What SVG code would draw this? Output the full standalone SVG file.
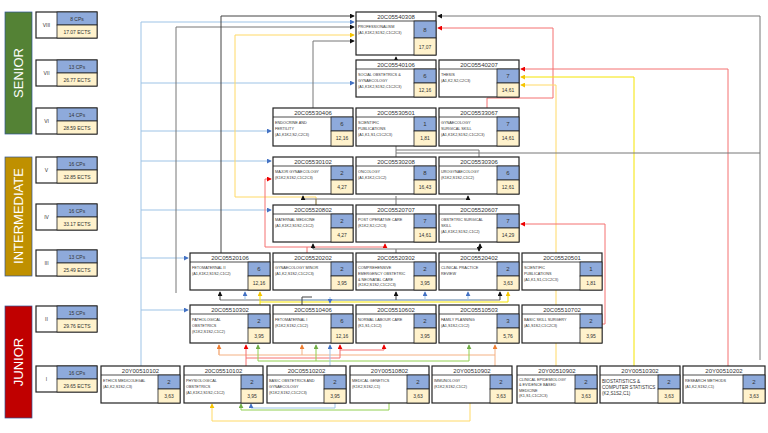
<svg xmlns="http://www.w3.org/2000/svg" width="768" height="433" viewBox="0 0 768 433">
<defs>
<style>
.b{fill:#fff;stroke:#222;stroke-width:1.2}
.hl{stroke:#222;stroke-width:0.8}
.cp{fill:#8eaadb;stroke:#222;stroke-width:0.8}
.ec{fill:#fff2cc;stroke:#222;stroke-width:0.8}
text{font-family:"Liberation Sans",Arial,sans-serif;fill:#333}
.code{font-size:6px;text-anchor:middle}
.nm{font-size:3.8px}
.num{font-size:6px;text-anchor:middle}
.ects{font-size:5px;text-anchor:middle}
.band{font-size:13px;fill:#fff;text-anchor:middle}
.sl{font-size:5px;text-anchor:middle}
.c{fill:none;stroke-width:1}
.gy{stroke:#777}.bk{stroke:#444}.bl{stroke:#9dc3e6}.rd{stroke:#f47070}.ye{stroke:#ffd966}.yy{stroke:#f5e400}.or{stroke:#f4b183}.gr{stroke:#92d050}
</style>
<marker id="aK" viewBox="0 0 6 6" refX="5" refY="3" markerWidth="5" markerHeight="5" orient="auto"><path d="M0,0L6,3L0,6z" fill="#111"/></marker>
<marker id="aB" viewBox="0 0 6 6" refX="5" refY="3" markerWidth="5" markerHeight="5" orient="auto"><path d="M0,0L6,3L0,6z" fill="#4472c4"/></marker>
<marker id="aR" viewBox="0 0 6 6" refX="5" refY="3" markerWidth="5" markerHeight="5" orient="auto"><path d="M0,0L6,3L0,6z" fill="#e00"/></marker>
<marker id="aY" viewBox="0 0 6 6" refX="5" refY="3" markerWidth="5" markerHeight="5" orient="auto"><path d="M0,0L6,3L0,6z" fill="#f5c400"/></marker>
<marker id="aO" viewBox="0 0 6 6" refX="5" refY="3" markerWidth="5" markerHeight="5" orient="auto"><path d="M0,0L6,3L0,6z" fill="#ed7d31"/></marker>
<marker id="aG" viewBox="0 0 6 6" refX="5" refY="3" markerWidth="5" markerHeight="5" orient="auto"><path d="M0,0L6,3L0,6z" fill="#70ad47"/></marker>
</defs>
<rect width="768" height="433" fill="#fff"/>

<g id="connectors">
<!-- blue trunk -->
<path class="c bl" d="M141,366V22H354" marker-end="url(#aB)"/>
<path class="c bl" d="M141,83H354" marker-end="url(#aB)"/>
<path class="c bl" d="M141,131H271" marker-end="url(#aB)"/>
<path class="c bl" d="M141,161H271" marker-end="url(#aB)"/>
<path class="c bl" d="M141,210H271" marker-end="url(#aB)"/>
<path class="c bl" d="M141,258H188" marker-end="url(#aB)"/>
<path class="c bl" d="M141,310H188" marker-end="url(#aB)"/>
<!-- gray to professionalism -->
<path class="c gy" d="M176,293V27H354" marker-end="url(#aK)"/>
<path class="c bk" d="M221,253V16H354" marker-end="url(#aK)"/>
<path class="c ye" d="M235,35H354" marker-end="url(#aY)"/>
<path class="c ye" d="M235,35V197H316V205"/>
<path class="c gy" d="M313,108V41H354" marker-end="url(#aK)"/>
<path class="c bk" d="M396,60V57" marker-end="url(#aK)"/>
<path class="c gy" d="M760,360V16H438" marker-end="url(#aK)"/>
<path class="c rd" d="M487,108V98H553V28H438" marker-end="url(#aR)"/>
<path class="c rd" d="M728,366V69H521" marker-end="url(#aR)"/>
<path class="c yy" d="M634,366V77H521" marker-end="url(#aY)"/>
<path class="c ye" d="M556,366V85H521" marker-end="url(#aY)"/>
<!-- row VI to V -->
<path class="c gy" d="M396,157V146"/>
<path class="c gy" d="M479,157V150H396"/>
<path class="c gy" d="M396,153H760"/>
<!-- row V - IV -->
<path class="c gy" d="M303,199H468"/>
<path class="c bk" d="M303,199V196" marker-end="url(#aK)"/>
<path class="c bk" d="M468,199V196" marker-end="url(#aK)"/>
<path class="c gy" d="M396,205V196"/>
<path class="c gy" d="M316,199V205"/>
<!-- red into major gyn and post op -->
<path class="c rd" d="M307,253V247H265V179H271" marker-end="url(#aR)"/>
<path class="c rd" d="M307,247H385V244" marker-end="url(#aR)"/>
<path class="c rd" d="M605,324V224H521" marker-end="url(#aR)"/>
<path class="c rd" d="M602,324H605"/>
<!-- row III to IV -->
<path class="c gy" d="M313,249H480"/>
<path class="c bk" d="M313,249V244" marker-end="url(#aK)"/>
<path class="c bk" d="M480,249V244" marker-end="url(#aK)"/>
<path class="c bk" d="M480,249H479V251" marker-end="url(#aK)"/>
<path class="c gy" d="M396,253V249"/>
<!-- row II to III -->
<path class="c gy" d="M220,300H500"/>
<path class="c bk" d="M220,300V292" marker-end="url(#aK)"/>
<path class="c bl" d="M245,300V292" marker-end="url(#aB)"/>
<path class="c yy" d="M260,305V300V292" marker-end="url(#aY)"/>
<path class="c bl" d="M300,300H480"/>
<path class="c bk" d="M396,300V292" marker-end="url(#aK)"/>
<path class="c bl" d="M425,300V292" marker-end="url(#aB)"/>
<path class="c bl" d="M468,300V292" marker-end="url(#aB)"/>
<path class="c bk" d="M500,300V292" marker-end="url(#aK)"/>
<path class="c yy" d="M260,302H508V292" marker-end="url(#aY)"/>
<path class="c bk" d="M302,305V297H312"/>
<path class="c bl" d="M330,297V303" marker-end="url(#aB)"/>
<!-- row I to II -->
<path class="c or" d="M219,345V355H495V366"/>
<path class="c or" d="M219,355V345" marker-end="url(#aO)"/>
<path class="c or" d="M302,355V345" marker-end="url(#aO)"/>
<path class="c or" d="M495,355V345" marker-end="url(#aO)"/>
<path class="c rd" d="M246,366V345" marker-end="url(#aR)"/>
<path class="c rd" d="M246,358H340V345" marker-end="url(#aR)"/>
<path class="c rd" d="M340,350H384V345" marker-end="url(#aR)"/>
<path class="c gr" d="M258,361V345" marker-end="url(#aG)"/>
<path class="c gr" d="M258,361H469V345" marker-end="url(#aG)"/>
<path class="c gr" d="M316,361V345" marker-end="url(#aG)"/>
<path class="c bl" d="M330,366V345" marker-end="url(#aB)"/>
<path class="c gr" d="M389,410H241V404" marker-end="url(#aG)"/>
<path class="c gr" d="M389,403V410"/>
<path class="c bl" d="M335,403V408H251V404" marker-end="url(#aB)"/>
<path class="c ye" d="M470,403V421H212V404" marker-end="url(#aY)"/>
</g>

<g id="bands">
<rect x="5" y="12" width="27" height="122" fill="#548235" stroke="#2f5597" stroke-width="0.7"/>
<text class="band" transform="translate(23,73) rotate(-90)">SENIOR</text>
<rect x="5" y="157" width="27" height="119" fill="#bf9000" stroke="#2f5597" stroke-width="0.7"/>
<text class="band" transform="translate(23,216) rotate(-90)">INTERMEDIATE</text>
<rect x="5" y="306" width="27" height="112" fill="#c00000" stroke="#2f5597" stroke-width="0.7"/>
<text class="band" transform="translate(23,362) rotate(-90)">JUNIOR</text>
</g>

<g id="semesters">
<g transform="translate(36,12)"><rect class="b" width="61" height="26"/><rect class="cp" x="21" width="40" height="13"/><rect class="ec" x="21" y="13" width="40" height="13"/><text class="sl" x="10.5" y="15">VIII</text><text class="sl" x="41" y="9">8 CPs</text><text class="sl" x="41" y="22">17.07 ECTS</text></g>
<g transform="translate(36,60)"><rect class="b" width="61" height="26"/><rect class="cp" x="21" width="40" height="13"/><rect class="ec" x="21" y="13" width="40" height="13"/><text class="sl" x="10.5" y="15">VII</text><text class="sl" x="41" y="9">13 CPs</text><text class="sl" x="41" y="22">26.77 ECTS</text></g>
<g transform="translate(36,108)"><rect class="b" width="61" height="26"/><rect class="cp" x="21" width="40" height="13"/><rect class="ec" x="21" y="13" width="40" height="13"/><text class="sl" x="10.5" y="15">VI</text><text class="sl" x="41" y="9">14 CPs</text><text class="sl" x="41" y="22">28.59 ECTS</text></g>
<g transform="translate(36,157)"><rect class="b" width="61" height="26"/><rect class="cp" x="21" width="40" height="13"/><rect class="ec" x="21" y="13" width="40" height="13"/><text class="sl" x="10.5" y="15">V</text><text class="sl" x="41" y="9">16 CPs</text><text class="sl" x="41" y="22">32.85 ECTS</text></g>
<g transform="translate(36,204)"><rect class="b" width="61" height="26"/><rect class="cp" x="21" width="40" height="13"/><rect class="ec" x="21" y="13" width="40" height="13"/><text class="sl" x="10.5" y="15">IV</text><text class="sl" x="41" y="9">16 CPs</text><text class="sl" x="41" y="22">33.17 ECTS</text></g>
<g transform="translate(36,250)"><rect class="b" width="61" height="26"/><rect class="cp" x="21" width="40" height="13"/><rect class="ec" x="21" y="13" width="40" height="13"/><text class="sl" x="10.5" y="15">III</text><text class="sl" x="41" y="9">13 CPs</text><text class="sl" x="41" y="22">25.49 ECTS</text></g>
<g transform="translate(36,306)"><rect class="b" width="61" height="26"/><rect class="cp" x="21" width="40" height="13"/><rect class="ec" x="21" y="13" width="40" height="13"/><text class="sl" x="10.5" y="15">II</text><text class="sl" x="41" y="9">15 CPs</text><text class="sl" x="41" y="22">29.76 ECTS</text></g>
<g transform="translate(36,366)"><rect class="b" width="61" height="26"/><rect class="cp" x="21" width="40" height="13"/><rect class="ec" x="21" y="13" width="40" height="13"/><text class="sl" x="10.5" y="15">I</text><text class="sl" x="41" y="9">16 CPs</text><text class="sl" x="41" y="22">29.65 ECTS</text></g>
</g>

<!-- nodes -->
<g id="n20C05540308" transform="translate(356,12)"><rect class="b" width="80" height="43"/><line class="hl" x1="0" y1="9" x2="80" y2="9"/><rect class="cp" x="58" y="9" width="22" height="17"/><rect class="ec" x="58" y="26" width="22" height="17"/><text class="code" x="40" y="7">20C05540308</text><text class="nm" x="2" y="16">PROFESSIONALISM</text><text class="nm" x="2" y="22">(A1,K1K2,S1S2,C1C2C3)</text><text class="num" x="69" y="20">8</text><text class="ects" x="69" y="37">17,07</text></g>

<g id="n20C05540106" transform="translate(356,60)"><rect class="b" width="80" height="37"/><line class="hl" x1="0" y1="9" x2="80" y2="9"/><rect class="cp" x="58" y="9" width="22" height="14"/><rect class="ec" x="58" y="23" width="22" height="14"/><text class="code" x="40" y="7">20C05540106</text><text class="nm" x="2" y="16">SOCIAL OBSTETRICS &amp;</text><text class="nm" x="2" y="22">GYNAECOLOGY</text><text class="nm" x="2" y="28">(A1,K1K2,S1S2,C1C2C3)</text><text class="num" x="69" y="18">6</text><text class="ects" x="69" y="32">12,16</text></g>
<g id="n20C05540207" transform="translate(439,60)"><rect class="b" width="80" height="37"/><line class="hl" x1="0" y1="9" x2="80" y2="9"/><rect class="cp" x="58" y="9" width="22" height="14"/><rect class="ec" x="58" y="23" width="22" height="14"/><text class="code" x="40" y="7">20C05540207</text><text class="nm" x="2" y="16">THESIS</text><text class="nm" x="2" y="22">(A1,K2,S2,C2C3)</text><text class="num" x="69" y="18">7</text><text class="ects" x="69" y="32">14,61</text></g>

<g id="n20C05530406" transform="translate(273,108)"><rect class="b" width="80" height="38"/><line class="hl" x1="0" y1="9" x2="80" y2="9"/><rect class="cp" x="58" y="9" width="22" height="14"/><rect class="ec" x="58" y="23" width="22" height="15"/><text class="code" x="40" y="7">20C05530406</text><text class="nm" x="2" y="16">ENDOCRINE AND</text><text class="nm" x="2" y="22">FERTILITY</text><text class="nm" x="2" y="28">(A1,K1K2,S2,C2C3)</text><text class="num" x="69" y="18">6</text><text class="ects" x="69" y="32">12,16</text></g>
<g id="n20C05530501" transform="translate(356,108)"><rect class="b" width="80" height="38"/><line class="hl" x1="0" y1="9" x2="80" y2="9"/><rect class="cp" x="58" y="9" width="22" height="14"/><rect class="ec" x="58" y="23" width="22" height="15"/><text class="code" x="40" y="7">20C05530501</text><text class="nm" x="2" y="16">SCIENTIFIC</text><text class="nm" x="2" y="22">PUBLICATIONS</text><text class="nm" x="2" y="28">(A1,K1,S1,C1C2C3)</text><text class="num" x="69" y="18">1</text><text class="ects" x="69" y="32">1,81</text></g>
<g id="n20C05533067" transform="translate(439,108)"><rect class="b" width="80" height="38"/><line class="hl" x1="0" y1="9" x2="80" y2="9"/><rect class="cp" x="58" y="9" width="22" height="14"/><rect class="ec" x="58" y="23" width="22" height="15"/><text class="code" x="40" y="7">20C05533067</text><text class="nm" x="2" y="16">GYNAECOLOGY</text><text class="nm" x="2" y="22">SURGICAL SKILL</text><text class="nm" x="2" y="28">(A1,K1K2,S1S2,C1C2C3)</text><text class="num" x="69" y="18">7</text><text class="ects" x="69" y="32">14,61</text></g>

<g id="n20C05530102" transform="translate(273,157)"><rect class="b" width="80" height="37"/><line class="hl" x1="0" y1="9" x2="80" y2="9"/><rect class="cp" x="58" y="9" width="22" height="14"/><rect class="ec" x="58" y="23" width="22" height="14"/><text class="code" x="40" y="7">20C05530102</text><text class="nm" x="2" y="16">MAJOR GYNAECOLOGY</text><text class="nm" x="2" y="22">(K1K2,S1S2,C1C2C3)</text><text class="num" x="69" y="18">2</text><text class="ects" x="69" y="32">4,27</text></g>
<g id="n20C05530208" transform="translate(356,157)"><rect class="b" width="80" height="37"/><line class="hl" x1="0" y1="9" x2="80" y2="9"/><rect class="cp" x="58" y="9" width="22" height="14"/><rect class="ec" x="58" y="23" width="22" height="14"/><text class="code" x="40" y="7">20C05530208</text><text class="nm" x="2" y="16">ONCOLOGY</text><text class="nm" x="2" y="22">(A1,K1K2,C1C2)</text><text class="num" x="69" y="18">8</text><text class="ects" x="69" y="32">16,43</text></g>
<g id="n20C05530306" transform="translate(439,157)"><rect class="b" width="80" height="37"/><line class="hl" x1="0" y1="9" x2="80" y2="9"/><rect class="cp" x="58" y="9" width="22" height="14"/><rect class="ec" x="58" y="23" width="22" height="14"/><text class="code" x="40" y="7">20C05530306</text><text class="nm" x="2" y="16">UROGYNAECOLOGY</text><text class="nm" x="2" y="22">(K1K2,S1S2,C1C2)</text><text class="num" x="69" y="18">6</text><text class="ects" x="69" y="32">12,61</text></g>

<g id="n20C05520802" transform="translate(273,205)"><rect class="b" width="80" height="37"/><line class="hl" x1="0" y1="9" x2="80" y2="9"/><rect class="cp" x="58" y="9" width="22" height="14"/><rect class="ec" x="58" y="23" width="22" height="14"/><text class="code" x="40" y="7">20C05520802</text><text class="nm" x="2" y="16">MATERNAL MEDICINE</text><text class="nm" x="2" y="22">(A1,K1K2,S1S2,C1C2)</text><text class="num" x="69" y="18">2</text><text class="ects" x="69" y="32">4,27</text></g>
<g id="n20C05520707" transform="translate(356,205)"><rect class="b" width="80" height="37"/><line class="hl" x1="0" y1="9" x2="80" y2="9"/><rect class="cp" x="58" y="9" width="22" height="14"/><rect class="ec" x="58" y="23" width="22" height="14"/><text class="code" x="40" y="7">20C05520707</text><text class="nm" x="2" y="16">POST OPERATIVE CARE</text><text class="nm" x="2" y="22">(K1K2,S2,C2C3)</text><text class="num" x="69" y="18">7</text><text class="ects" x="69" y="32">14,61</text></g>
<g id="n20C05520607" transform="translate(439,205)"><rect class="b" width="80" height="37"/><line class="hl" x1="0" y1="9" x2="80" y2="9"/><rect class="cp" x="58" y="9" width="22" height="14"/><rect class="ec" x="58" y="23" width="22" height="14"/><text class="code" x="40" y="7">20C05520607</text><text class="nm" x="2" y="16">OBSTETRIC SURGICAL</text><text class="nm" x="2" y="22">SKILL</text><text class="nm" x="2" y="28">(A1,K1K2,S1S2,C1C2)</text><text class="num" x="69" y="18">7</text><text class="ects" x="69" y="32">14,29</text></g>

<g id="n20C05520106" transform="translate(190,253)"><rect class="b" width="80" height="37"/><line class="hl" x1="0" y1="9" x2="80" y2="9"/><rect class="cp" x="58" y="9" width="22" height="14"/><rect class="ec" x="58" y="23" width="22" height="14"/><text class="code" x="40" y="7">20C05520106</text><text class="nm" x="2" y="16">FETOMATERNAL II</text><text class="nm" x="2" y="22">(A1,K1K2,S1S2,C1C2)</text><text class="num" x="69" y="18">6</text><text class="ects" x="69" y="32">12,16</text></g>
<g id="n20C05520202" transform="translate(273,253)"><rect class="b" width="80" height="37"/><line class="hl" x1="0" y1="9" x2="80" y2="9"/><rect class="cp" x="58" y="9" width="22" height="14"/><rect class="ec" x="58" y="23" width="22" height="14"/><text class="code" x="40" y="7">20C05520202</text><text class="nm" x="2" y="16">GYNAECOLOGY MINOR</text><text class="nm" x="2" y="22">(A1,K2,S1S2,C1C2C3)</text><text class="num" x="69" y="18">2</text><text class="ects" x="69" y="32">3,95</text></g>
<g id="n20C05520302" transform="translate(356,253)"><rect class="b" width="80" height="37"/><line class="hl" x1="0" y1="9" x2="80" y2="9"/><rect class="cp" x="58" y="9" width="22" height="14"/><rect class="ec" x="58" y="23" width="22" height="14"/><text class="code" x="40" y="7">20C05520302</text><text class="nm" x="2" y="16">COMPREHENSIVE</text><text class="nm" x="2" y="22">EMERGENCY OBSTETRIC</text><text class="nm" x="2" y="28">&amp; NEONATAL CARE</text><text class="nm" x="2" y="33">(K1K2,S1S2,C1C2C3)</text><text class="num" x="69" y="18">2</text><text class="ects" x="69" y="32">3,95</text></g>
<g id="n20C05520402" transform="translate(439,253)"><rect class="b" width="80" height="37"/><line class="hl" x1="0" y1="9" x2="80" y2="9"/><rect class="cp" x="58" y="9" width="22" height="14"/><rect class="ec" x="58" y="23" width="22" height="14"/><text class="code" x="40" y="7">20C05520402</text><text class="nm" x="2" y="16">CLINICAL PRACTICE</text><text class="nm" x="2" y="22">REVIEW</text><text class="num" x="69" y="18">2</text><text class="ects" x="69" y="32">3,63</text></g>
<g id="n20C05520501" transform="translate(522,253)"><rect class="b" width="80" height="37"/><line class="hl" x1="0" y1="9" x2="80" y2="9"/><rect class="cp" x="58" y="9" width="22" height="14"/><rect class="ec" x="58" y="23" width="22" height="14"/><text class="code" x="40" y="7">20C05520501</text><text class="nm" x="2" y="16">SCIENTIFIC</text><text class="nm" x="2" y="22">PUBLICATIONS</text><text class="nm" x="2" y="28">(A1,K1,S1,C1C2C3)</text><text class="num" x="69" y="18">1</text><text class="ects" x="69" y="32">1,81</text></g>

<g id="n20C05510302" transform="translate(190,305)"><rect class="b" width="80" height="38"/><line class="hl" x1="0" y1="9" x2="80" y2="9"/><rect class="cp" x="58" y="9" width="22" height="14"/><rect class="ec" x="58" y="23" width="22" height="15"/><text class="code" x="40" y="7">20C05510302</text><text class="nm" x="2" y="16">PATHOLOGICAL</text><text class="nm" x="2" y="22">OBSTETRICS</text><text class="nm" x="2" y="28">(K1K2,S1S2,C1C2)</text><text class="num" x="69" y="18">2</text><text class="ects" x="69" y="33">3,95</text></g>
<g id="n20C05510406" transform="translate(273,305)"><rect class="b" width="80" height="38"/><line class="hl" x1="0" y1="9" x2="80" y2="9"/><rect class="cp" x="58" y="9" width="22" height="14"/><rect class="ec" x="58" y="23" width="22" height="15"/><text class="code" x="40" y="7">20C05510406</text><text class="nm" x="2" y="16">FETOMATERNAL I</text><text class="nm" x="2" y="22">(K1K2,S1S2,C1C2)</text><text class="num" x="69" y="18">6</text><text class="ects" x="69" y="33">12,16</text></g>
<g id="n20C05510602" transform="translate(356,305)"><rect class="b" width="80" height="38"/><line class="hl" x1="0" y1="9" x2="80" y2="9"/><rect class="cp" x="58" y="9" width="22" height="14"/><rect class="ec" x="58" y="23" width="22" height="15"/><text class="code" x="40" y="7">20C05510602</text><text class="nm" x="2" y="16">NORMAL LABOUR CARE</text><text class="nm" x="2" y="22">(K1,S1,C1C2)</text><text class="num" x="69" y="18">2</text><text class="ects" x="69" y="33">3,95</text></g>
<g id="n20C05510503" transform="translate(439,305)"><rect class="b" width="80" height="38"/><line class="hl" x1="0" y1="9" x2="80" y2="9"/><rect class="cp" x="58" y="9" width="22" height="14"/><rect class="ec" x="58" y="23" width="22" height="15"/><text class="code" x="40" y="7">20C05510503</text><text class="nm" x="2" y="16">FAMILY PLANNING</text><text class="nm" x="2" y="22">(A1,S1S2,C1C2)</text><text class="num" x="69" y="18">3</text><text class="ects" x="69" y="33">5,76</text></g>
<g id="n20C05510702" transform="translate(522,305)"><rect class="b" width="80" height="38"/><line class="hl" x1="0" y1="9" x2="80" y2="9"/><rect class="cp" x="58" y="9" width="22" height="14"/><rect class="ec" x="58" y="23" width="22" height="15"/><text class="code" x="40" y="7">20C05510702</text><text class="nm" x="2" y="16">BASIC SKILL SURGERY</text><text class="nm" x="2" y="22">(A1,S1S2,C1C2C3)</text><text class="num" x="69" y="18">2</text><text class="ects" x="69" y="33">3,95</text></g>

<g id="n20Y00510102" transform="translate(101,366)"><rect class="b" width="79" height="37"/><line class="hl" x1="0" y1="9" x2="79" y2="9"/><rect class="cp" x="57" y="9" width="22" height="14"/><rect class="ec" x="57" y="23" width="22" height="14"/><text class="code" x="39.5" y="7">20Y00510102</text><text class="nm" x="2" y="16">ETHICS MEDICOLEGAL</text><text class="nm" x="2" y="22">(A1,K2,S1S2,C3)</text><text class="num" x="68" y="18">2</text><text class="ects" x="68" y="32">3,63</text></g>
<g id="n20C05510102" transform="translate(184,366)"><rect class="b" width="79" height="37"/><line class="hl" x1="0" y1="9" x2="79" y2="9"/><rect class="cp" x="57" y="9" width="22" height="14"/><rect class="ec" x="57" y="23" width="22" height="14"/><text class="code" x="39.5" y="7">20C05510102</text><text class="nm" x="2" y="16">PHYSIOLOGICAL</text><text class="nm" x="2" y="22">OBSTETRICS</text><text class="nm" x="2" y="28">(A1,K1K2,S1S2,C1C2)</text><text class="num" x="68" y="18">2</text><text class="ects" x="68" y="32">3,95</text></g>
<g id="n20C05510202" transform="translate(267,366)"><rect class="b" width="79" height="37"/><line class="hl" x1="0" y1="9" x2="79" y2="9"/><rect class="cp" x="57" y="9" width="22" height="14"/><rect class="ec" x="57" y="23" width="22" height="14"/><text class="code" x="39.5" y="7">20C05510202</text><text class="nm" x="2" y="16">BASIC OBSTETRICS AND</text><text class="nm" x="2" y="22">GYNAECOLOGY</text><text class="nm" x="2" y="28">(K1K2,S1S2,C1C2C3)</text><text class="num" x="68" y="18">2</text><text class="ects" x="68" y="32">3,95</text></g>
<g id="n20Y00510802" transform="translate(350,366)"><rect class="b" width="79" height="37"/><line class="hl" x1="0" y1="9" x2="79" y2="9"/><rect class="cp" x="57" y="9" width="22" height="14"/><rect class="ec" x="57" y="23" width="22" height="14"/><text class="code" x="39.5" y="7">20Y00510802</text><text class="nm" x="2" y="16">MEDICAL GENETICS</text><text class="nm" x="2" y="22">(K1K2,S1S2,C1)</text><text class="num" x="68" y="18">2</text><text class="ects" x="68" y="32">3,63</text></g>
<g id="n20Y00510902a" transform="translate(432,366)"><rect class="b" width="80" height="37"/><line class="hl" x1="0" y1="9" x2="80" y2="9"/><rect class="cp" x="58" y="9" width="22" height="14"/><rect class="ec" x="58" y="23" width="22" height="14"/><text class="code" x="40" y="7">20Y00510902</text><text class="nm" x="2" y="16">IMMUNOLOGY</text><text class="nm" x="2" y="22">(K1K2,S1S2,C1C2)</text><text class="num" x="69" y="18">2</text><text class="ects" x="69" y="32">3,63</text></g>
<g id="n20Y00510902b" transform="translate(517,366)"><rect class="b" width="80" height="37"/><line class="hl" x1="0" y1="9" x2="80" y2="9"/><rect class="cp" x="58" y="9" width="22" height="14"/><rect class="ec" x="58" y="23" width="22" height="14"/><text class="code" x="40" y="7">20Y00510902</text><text class="nm" x="2" y="15">CLINICAL EPIDEMIOLOGY</text><text class="nm" x="2" y="20">&amp; EVIDENCE BASED</text><text class="nm" x="2" y="26">MEDICINE</text><text class="nm" x="2" y="31">(K1,S1,C1C2C3)</text><text class="num" x="69" y="18">2</text><text class="ects" x="69" y="32">3,63</text></g>
<g id="n20Y00510302" transform="translate(600,366)"><rect class="b" width="80" height="37"/><line class="hl" x1="0" y1="9" x2="80" y2="9"/><rect class="cp" x="58" y="9" width="22" height="14"/><rect class="ec" x="58" y="23" width="22" height="14"/><text class="code" x="40" y="7">20Y00510302</text><text class="nm" x="2" y="17" style="font-size:4.6px">BIOSTATISTICS &amp;</text><text class="nm" x="2" y="23" style="font-size:4.6px">COMPUTER STATISTICS</text><text class="nm" x="2" y="29" style="font-size:4.6px">(K2,S1S2,C1)</text><text class="num" x="69" y="18">2</text><text class="ects" x="69" y="32">3,63</text></g>
<g id="n20Y00510202" transform="translate(683,366)"><rect class="b" width="82" height="37"/><line class="hl" x1="0" y1="9" x2="82" y2="9"/><rect class="cp" x="60" y="9" width="22" height="14"/><rect class="ec" x="60" y="23" width="22" height="14"/><text class="code" x="41" y="7">20Y00510202</text><text class="nm" x="2" y="16">RESEARCH METHODS</text><text class="nm" x="2" y="22">(A1,K2,S1S2,C1)</text><text class="num" x="71" y="18">2</text><text class="ects" x="71" y="32">3,63</text></g>
</svg>
